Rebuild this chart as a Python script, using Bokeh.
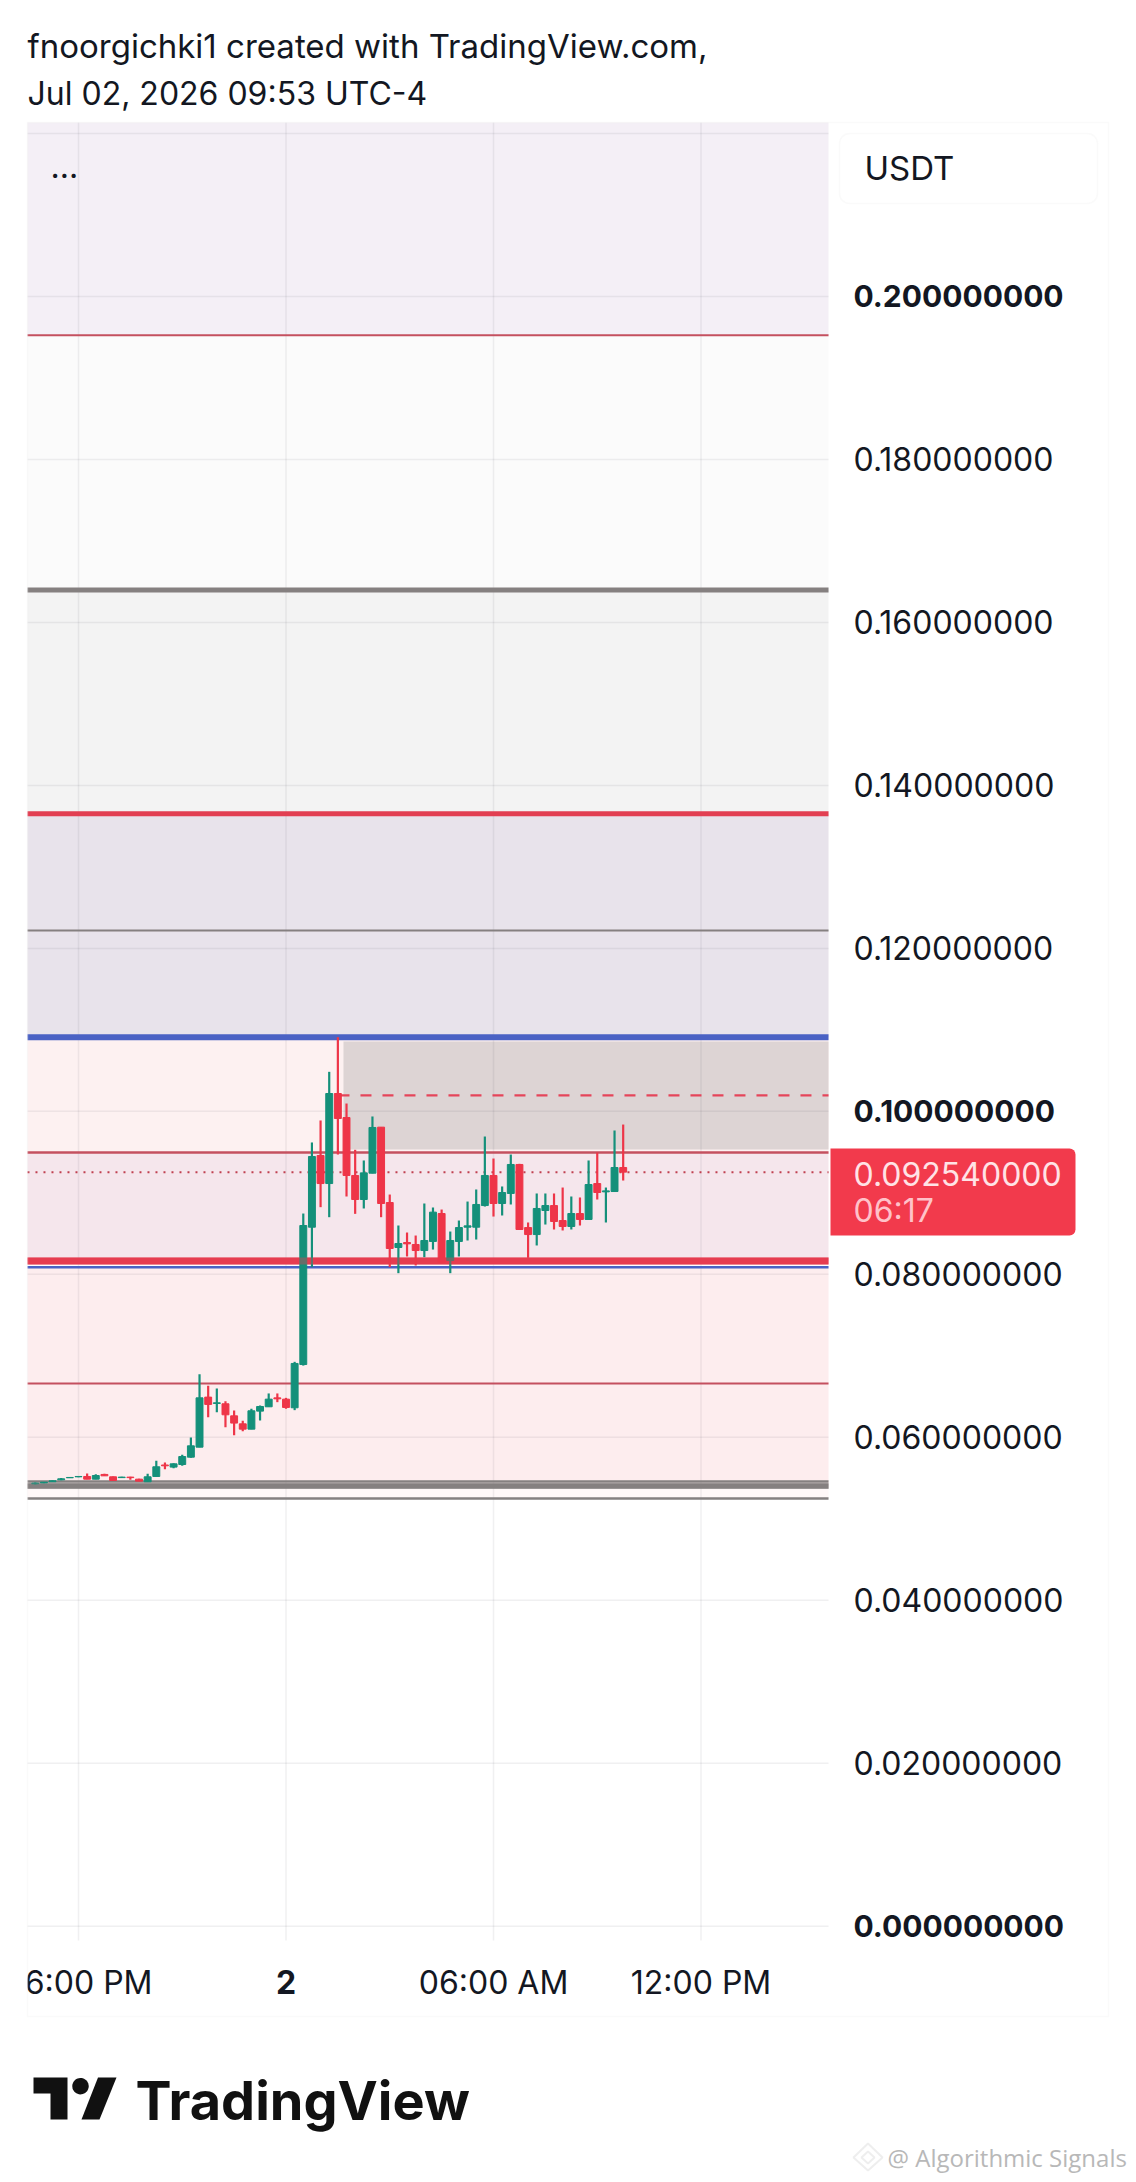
import numpy as np
from bokeh.embed import file_html
from bokeh.models import (BoxAnnotation, FixedTicker, Label, LinearAxis, PolyAnnotation,
                          PrintfTickFormatter, Range1d)
from bokeh.plotting import figure
from bokeh.resources import INLINE

# ---------- data ----------
bar_index = list(range(-29, 40))
opens = [.05429,.05440,.05455,.05478,.05503,.05515,.05519,.05486,.05544,.05515,.05505,.05511,.05486,.05454,.05519,
         .05660,.05634,.05666,.05756,.05879,.06493,.06415,.06411,.06263,.06165,.06100,.06321,.06374,.06484,.06468,
         .06362,.06893,.08578,.09458,.09114,.10219,.09924,.09213,.08918,.09241,.09806,.08881,.08329,.08390,.08366,
         .08292,.08403,.08746,.08169,.08403,.08578,.08578,.08844,.09213,.08869,.08992,.09348,.08574,.08488,.08783,
         .08844,.08660,.08587,.08746,.08673,.09114,.09012,.09016,.09311]
highs = [.05445,.05452,.05470,.05500,.05510,.05525,.05556,.05545,.05552,.05520,.05515,.05515,.05490,.05552,.05711,
         .05691,.05680,.05785,.05998,.06775,.06632,.06599,.06443,.06329,.06202,.06349,.06390,.06538,.06538,.06484,
         .06926,.08746,.09618,.09888,.10485,.10910,.10096,.09528,.09397,.09937,.09806,.08979,.08599,.08513,.08476,
         .08869,.08820,.08795,.08525,.08660,.08893,.09041,.09691,.09421,.09078,.09470,.09356,.08636,.08992,.08992,
         .08992,.09065,.08955,.08943,.09397,.09495,.09065,.09765,.09838]
lows = [.05420,.05436,.05450,.05472,.05500,.05510,.05486,.05486,.05527,.05470,.05500,.05478,.05462,.05454,.05519,
        .05609,.05621,.05650,.05748,.05879,.06247,.06308,.06124,.06026,.06075,.06100,.06206,.06374,.06431,.06350,
        .06333,.06880,.08088,.08824,.08701,.09470,.08955,.08742,.08808,.09241,.08701,.08088,.08014,.08219,.08108,
        .08210,.08304,.08149,.08014,.08219,.08415,.08427,.08832,.08709,.08722,.08857,.08550,.08202,.08354,.08611,
        .08550,.08538,.08550,.08599,.08673,.08918,.08636,.09016,.09151]
closes = [.05437,.05449,.05466,.05490,.05507,.05519,.05486,.05531,.05527,.05470,.05511,.05505,.05462,.05515,.05638,
          .05650,.05674,.05764,.05895,.06484,.06403,.06423,.06276,.06174,.06100,.06325,.06378,.06468,.06472,.06366,
          .06906,.08599,.09446,.09114,.10219,.09912,.09213,.08918,.09245,.09802,.08869,.08317,.08378,.08374,.08292,
          .08415,.08763,.08149,.08415,.08574,.08595,.08857,.09213,.08869,.09004,.09348,.08550,.08488,.08808,.08844,
          .08648,.08587,.08746,.08673,.09102,.09004,.09024,.09311,.09254]

band_bottom = [.19525,.16398,.13652,.10910,.09495,.08163,.05402,.05249]
band_top    = [.22135,.19525,.16398,.13652,.10910,.09495,.08090,.05402]
band_color  = ["#F4EFF6","#FBFBFB","#F3F3F3","#E8E3EB","#FDF1F1","#F5E6EC","#FDEDEE","#FFF8F8"]

level_price = [.19525,.16398,.13652,.12220,.10910,.09495,.08163,.08087,.06660,.05458,.05402,.05249]
level_color = ["#C4505F","#858080","#E23F52","#858080","#4A62C4","#C4505F","#E63C50","#4A62C4","#C4505F","#858080","#858080","#858080"]
level_width = [2,5,5,2,6,2.5,7,2.5,2,2.5,5.5,2.5]

zone_left, zone_bottom, zone_top = 6.65, .09532, .10857
target_start, target_price = 6.07, .10195
last_price = .09254

plain_ticks = [.02,.04,.06,.08,.12,.14,.16,.18]
bold_ticks = [0.0,.10,.20]
grid_ticks = [0.0,.02,.04,.06,.08,.10,.12,.14,.16,.18,.20,.22]
time_grid = [-24,0,24,48]
time_ticks = [-24,24,48]
time_labels = {-24:"06:00 PM",24:"06:00 AM",48:"12:00 PM"}
day_ticks, day_labels = [0], {0:"2"}

# ---------- figure ----------
INK = "#131722"
GREEN, RED = "#14907A", "#EE3548"
FONT = "Inter"
TICK = "32px"
PANE_L, PANE_R, PANE_B, PANE_T = -29.9, 62.75, -.00175, .22135

p = figure(width=1136, height=2182, output_backend="svg", toolbar_location=None,
           x_range=Range1d(-33.02, 98.37), y_range=Range1d(-.031454, .236325),
           y_axis_location="right", min_border=0, outline_line_color=None,
           background_fill_color="white", border_fill_color="white")
p.grid.visible = False


def style_axis(ax, standoff, bold=False, size=TICK):
    ax.axis_line_color = None
    ax.major_tick_line_color = None
    ax.minor_tick_line_color = None
    ax.major_tick_out = 0
    ax.major_tick_in = 0
    ax.major_label_standoff = standoff
    ax.major_label_text_font = FONT
    ax.major_label_text_font_size = size
    ax.major_label_text_color = INK
    ax.major_label_text_font_style = "bold" if bold else "normal"


YS, XS = -283, -220
p.yaxis.ticker = FixedTicker(ticks=plain_ticks)
p.yaxis.formatter = PrintfTickFormatter(format="%.9f")
style_axis(p.yaxis[0], YS)
p.xaxis.ticker = FixedTicker(ticks=time_ticks)
p.xaxis.major_label_overrides = time_labels
style_axis(p.xaxis[0], XS)

bold_y = LinearAxis(ticker=FixedTicker(ticks=bold_ticks), formatter=PrintfTickFormatter(format="%.9f"))
style_axis(bold_y, YS, bold=True, size="30px")
p.add_layout(bold_y, "right")
bold_x = LinearAxis(ticker=FixedTicker(ticks=day_ticks), major_label_overrides=day_labels)
style_axis(bold_x, XS + 7, bold=True)
p.add_layout(bold_x, "below")

n = len(band_bottom)
p.quad(left=[PANE_L] * n, right=[PANE_R] * n, bottom=band_bottom, top=band_top,
       fill_color=band_color, line_color=None, level="image")
p.quad(left=[zone_left], right=[PANE_R], bottom=[zone_bottom], top=[zone_top],
       fill_color="#DDD4D4", line_color=None, level="image")

# grid lines inside the pane
p.segment(x0=[PANE_L] * len(grid_ticks), x1=[PANE_R] * len(grid_ticks), y0=grid_ticks, y1=grid_ticks,
          line_color="#2A2E39", line_alpha=.07, line_width=1.5, level="underlay")
p.segment(x0=time_grid, x1=time_grid, y0=[PANE_B] * 4, y1=[PANE_T] * 4,
          line_color="#2A2E39", line_alpha=.07, line_width=1.5, level="underlay")

m = len(level_price)
p.segment(x0=[PANE_L] * m, x1=[PANE_R] * m, y0=level_price, y1=level_price,
          line_color=level_color, line_width=level_width, level="underlay")
p.segment(x0=[PANE_L], x1=[PANE_R], y0=[last_price], y1=[last_price],
          line_color="#C04050", line_width=2, line_dash="2 6", level="underlay")
p.segment(x0=[target_start], x1=[PANE_R], y0=[target_price], y1=[target_price],
          line_color="#E5455A", line_width=2.2, line_dash="11 11", level="underlay")

# candles
colors = [GREEN if c >= o else RED for o, c in zip(opens, closes)]
p.segment(x0=bar_index, x1=bar_index, y0=lows, y1=highs, line_color=colors, line_width=2.2)
p.vbar(x=bar_index, width=.8, bottom=[min(o, c) for o, c in zip(opens, closes)],
       top=[max(o, c) for o, c in zip(opens, closes)],
       fill_color=colors, line_color=colors, line_width=1)
# the thick support lines lie partly over the candles
p.segment(x0=[PANE_L, PANE_L], x1=[PANE_R, PANE_R], y0=[.08163, .05402], y1=[.08163, .05402],
          line_color=["#E63C50", "#858080"], line_width=[7, 5.5], line_alpha=.4)


def box(l, r, t, b, **kw):
    p.add_layout(BoxAnnotation(left=l, right=r, top=t, bottom=b, left_units="canvas", right_units="canvas",
                               top_units="canvas", bottom_units="canvas", level="overlay", **kw))


def poly(xs, ys, **kw):
    p.add_layout(PolyAnnotation(xs=list(xs), ys=list(ys), xs_units="canvas", ys_units="canvas", level="overlay", **kw))


def text(x, y, t, color=INK, size=TICK, font=FONT, style="normal", baseline="middle"):
    p.add_layout(Label(x=x, y=y, text=t, x_units="canvas", y_units="canvas", text_color=color, level="overlay",
                       text_font_size=size, text_font=font, text_font_style=style,
                       text_align="left", text_baseline=baseline))


# mask clipping the first time label at the pane edge, then the outer frame
box(0, 27, 2010, 1950, fill_color="white", fill_alpha=1, line_color=None)
box(27, 1108, 2016, 122, fill_alpha=0, line_color="#F0F0F0", line_width=1.5)

# heading
text(27, 45, "fnoorgichki1 created with TradingView.com,", size="33px")
text(27, 93, "Jul 02, 2026 09:53 UTC-4")
text(50, 165, "...", size="32px")

# currency chip
box(839, 1097, 203, 133, fill_color="white", fill_alpha=1, line_color="#F0F0F0", line_width=1.5, border_radius=10)
text(864, 167, "USDT", size="33px")

# last price tag
box(830, 1075, 1235, 1148, fill_color="#F23A4C", fill_alpha=1, line_color=None, border_radius=(0, 6, 6, 0))
text(853, 1173, f"{last_price:.9f}", color="#FFE3E6")
text(853, 1210, "06:17", color="#FFC2C9")

# logo
poly([33, 67, 67, 50, 50, 33], [2077, 2077, 2119, 2119, 2093, 2093], fill_color="#111111", fill_alpha=1, line_color=None)
poly([97.5, 116, 99, 81], [2077, 2077, 2119, 2119], fill_color="#111111", fill_alpha=1, line_color=None)
t = np.linspace(0, 2 * np.pi, 40)
poly(80 + 8.2 * np.cos(t), 2085.7 + 8.2 * np.sin(t), fill_color="#111111", fill_alpha=1, line_color=None)
text(135, 2100, "TradingView", size="54px", style="bold", color="#111111", baseline="alphabetic")

# watermark
poly([867.5, 882, 867.5, 853], [2143, 2157, 2170, 2157], fill_alpha=0, line_color="#C8C8C8", line_width=2)
poly([867.5, 874, 867.5, 861], [2151, 2157, 2163, 2157], fill_alpha=0, line_color="#C8C8C8", line_width=2)
text(887, 2157, "@ Algorithmic Signals", size="24px", font="Open Sans", color="#B8B8B8")

open("out.html", "w").write(file_html(p, INLINE))
